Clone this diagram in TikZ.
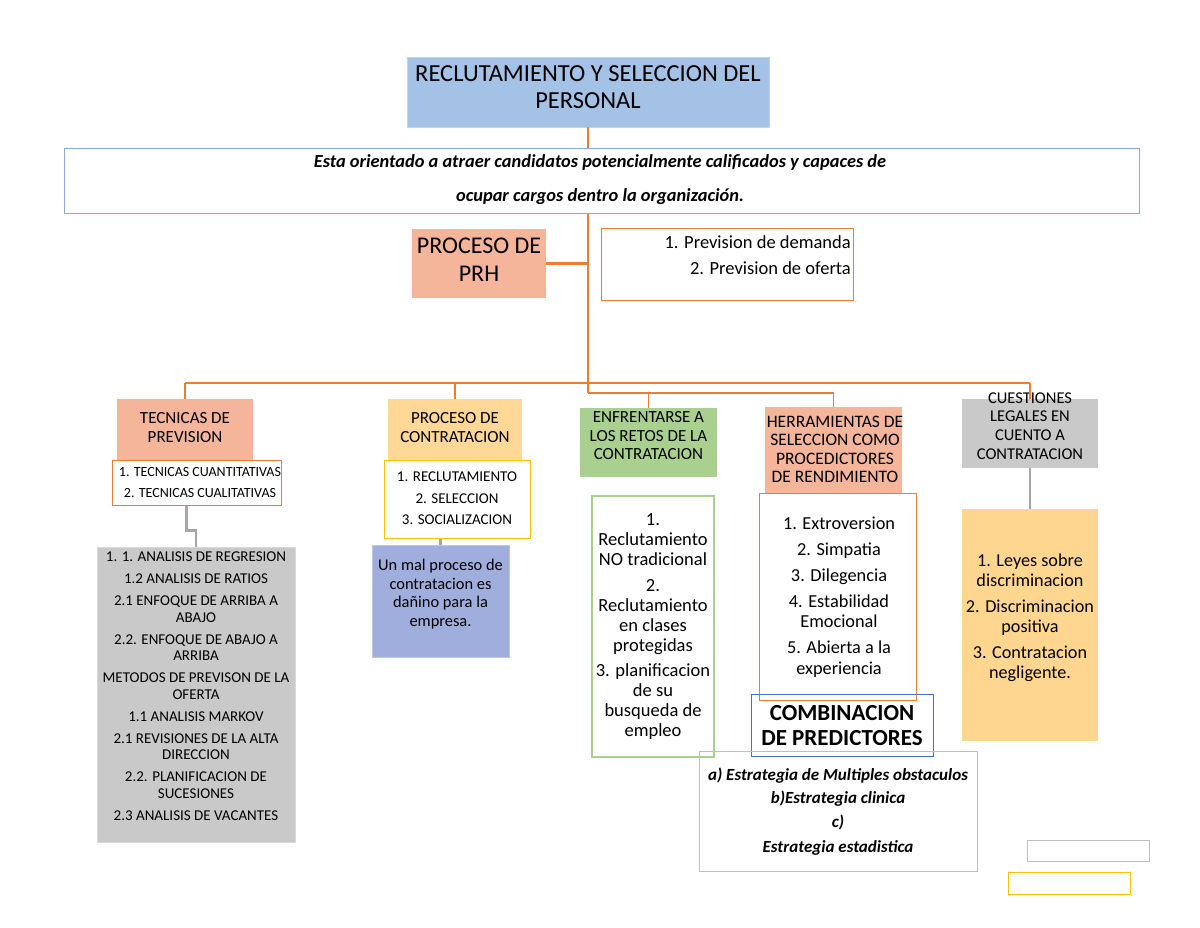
\documentclass[tikz,border=0pt]{standalone}
\usepackage{fontspec}
\setmainfont{Carlito}
\usetikzlibrary{calc}

\definecolor{titblue}{HTML}{A4C2E6}
\definecolor{descblue}{HTML}{8EAADB}
\definecolor{lineorange}{HTML}{ED7D31}
\definecolor{salmon}{HTML}{F4B59B}
\definecolor{boxgray}{HTML}{C9C9C9}
\definecolor{sand}{HTML}{FFD898}
\definecolor{gold}{HTML}{FFC000}
\definecolor{lavender}{HTML}{A0AEDD}
\definecolor{leaf}{HTML}{A9D08E}
\definecolor{edgegray}{HTML}{BFBFBF}
\definecolor{royal}{HTML}{4472C4}
\definecolor{peach}{HTML}{FFD68F}

\tikzset{
  boxx/.style={rectangle, inner sep=0pt},
  sz/.style n args={2}{minimum width=#1, minimum height=#2},
  filled/.style={boxx, fill=#1},
  framed/.style={boxx, draw=#1, line width=1pt},
  txt/.style={inner sep=0pt, align=center},
  link/.style={draw=lineorange, line width=1.6pt},
  glink/.style={draw=gray!70, line width=2.4pt}
}

\begin{document}
\begin{tikzpicture}[x=1pt, y=-1pt]
\fill[white] (0,0) rectangle (1200,927);
\useasboundingbox (0,0) rectangle (1200,927);

\node[filled=titblue, draw=titblue!70!white, sz={362}{70}] (title) at (588,92) {};
\node[txt, font=\fontsize{24.5}{27}\selectfont] (title-t) at (588,87) {RECLUTAMIENTO Y SELECCION DEL\\PERSONAL};

\node[framed=descblue, fill=white, sz={1075}{65}] (desc) at (601.5,180.5) {};
\node[txt, font=\bfseries\itshape\fontsize{18.4}{34}\selectfont] (desc-t) at (600,180) {Esta orientado a atraer candidatos potencialmente calificados y capaces de\\ocupar cargos dentro la organización.};

\node[filled=salmon, sz={134}{69}] (prh) at (479,263.5) {};
\node[txt, font=\fontsize{24}{28}\selectfont] (prh-t) at (479,260) {PROCESO DE\\PRH};

\node[framed=lineorange, sz={252}{72}] (prev) at (727,264) {};
\node[txt, align=right, anchor=east, font=\fontsize{18.5}{26}\selectfont] (prev-t) at (851,255) {1. Prevision de demanda\\2. Prevision de oferta};

\node[filled=salmon, sz={136}{61}] (tec) at (185,429.5) {};
\node[txt, font=\fontsize{17}{19}\selectfont] (tec-t) at (185,428) {TECNICAS DE\\PREVISION};
\node[framed=lineorange, fill=white, sz={169}{45}] (tecsub) at (196.5,482.5) {};
\node[txt, font=\fontsize{14}{21}\selectfont] (tecsub-t) at (200,482.5) {1. TECNICAS CUANTITATIVAS\\2. TECNICAS CUALITATIVAS};
\node[filled=boxgray, draw=boxgray!70!white, sz={198}{295}] (tecdet) at (196,694.5) {};
\node[txt, font=\fontsize{15}{16.5}\selectfont] (tecdet-t) at (196,686) {1. 1. ANALISIS DE REGRESION\\[5.5pt]1.2 ANALISIS DE RATIOS\\[5.5pt]2.1 ENFOQUE DE ARRIBA A\\ABAJO\\[5.5pt]2.2. ENFOQUE DE ABAJO A\\ARRIBA\\[5.5pt]METODOS DE PREVISON DE LA\\OFERTA\\[5.5pt]1.1 ANALISIS MARKOV\\[5.5pt]2.1 REVISIONES DE LA ALTA\\DIRECCION\\[5.5pt]2.2. PLANIFICACION DE\\SUCESIONES\\[5.5pt]2.3 ANALISIS DE VACANTES};

\node[filled=sand, sz={134}{61}] (cont) at (455,429.5) {};
\node[txt, font=\fontsize{17}{19}\selectfont] (cont-t) at (455,427.5) {PROCESO DE\\CONTRATACION};
\node[framed=gold, fill=white, sz={146}{78}] (contsub) at (457,499) {};
\node[txt, font=\fontsize{15}{21.5}\selectfont] (contsub-t) at (457,498.5) {1. RECLUTAMIENTO\\2. SELECCION\\3. SOCIALIZACION};
\node[filled=lavender, draw=lavender!70!white, sz={137}{112}] (mal) at (440.5,601) {};
\node[txt, font=\fontsize{16.4}{18.5}\selectfont] (mal-t) at (440.5,594) {Un mal proceso de\\contratacion es\\dañino para la\\empresa.};

\node[filled=leaf, sz={137}{69}] (enfr) at (648.5,442.5) {};
\node[txt, font=\fontsize{17}{18.5}\selectfont] (enfr-t) at (648.5,436) {ENFRENTARSE A\\LOS RETOS DE LA\\CONTRATACION};
\node[boxx, draw=leaf, line width=1.3pt, sz={122}{261}] (retos) at (653,626.5) {};
\node[txt, font=\fontsize{18.5}{20}\selectfont] (retos-t) at (653,627) {1.\\Reclutamiento\\NO tradicional\\[6pt]2.\\Reclutamiento\\en clases\\protegidas\\[5pt]3. planificacion\\de su\\busqueda de\\empleo};

\node[filled=salmon, sz={137}{86}] (herr) at (833.5,450) {};
\node[txt, font=\fontsize{17.5}{18.5}\selectfont] (herr-t) at (835,449.5) {HERRAMIENTAS DE\\SELECCION COMO\\PROCEDICTORES\\DE RENDIMIENTO};
\node[framed=lineorange, sz={157}{207}] (rasgos) at (837.5,596.5) {};
\node[txt, font=\fontsize{18.3}{20.5}\selectfont] (rasgos-t) at (839,597) {1. Extroversion\\[5.5pt]2. Simpatia\\[5.5pt]3. Dilegencia\\[5.5pt]4. Estabilidad\\Emocional\\[5.5pt]5. Abierta a la\\experiencia};
\node[framed=royal, sz={182}{62}] (combi) at (842,725) {};
\node[txt, font=\bfseries\fontsize{23}{25}\selectfont] (combi-t) at (842,725.5) {COMBINACION\\DE PREDICTORES};
\node[framed=edgegray, sz={278}{120}] (estrat) at (838,811) {};
\node[txt, font=\bfseries\itshape\fontsize{17}{23.5}\selectfont] (estrat-t) at (838,811.5) {a) Estrategia de Multiples obstaculos\\b)Estrategia clinica\\c)\\[1.5pt]Estrategia estadistica};

\node[filled=boxgray, sz={136}{69}] (cuest) at (1030,433.5) {};
\node[txt, font=\fontsize{16.5}{18.7}\selectfont] (cuest-t) at (1030,426) {CUESTIONES\\LEGALES EN\\CUENTO A\\CONTRATACION};
\node[filled=peach, sz={136}{232}] (leyes) at (1030,625) {};
\node[txt, font=\fontsize{18.2}{20}\selectfont] (leyes-t) at (1030,618) {1. Leyes sobre\\discriminacion\\[6pt]2. Discriminacion\\positiva\\[6pt]3. Contratacion\\negligente.};

\node[framed=edgegray, sz={122}{21}] (blank1) at (1088,850.5) {};
\node[framed=gold, sz={122}{22}] (blank2) at (1069,883) {};

\coordinate (hub) at (588,383);
\coordinate (hub2) at (588,393);
\draw[link] (title.south) -- (title.south |- desc.north);
\draw[link] (desc.south -| hub) -- (hub2);
\draw[link, line width=2.6pt] (prh.east) -- (prh.east -| hub);
\draw[link] (tec.north |- hub) -- (cuest.north |- hub);
\draw[link] (hub2) -- (herr.north |- hub2);
\foreach \n in {tec,cont,cuest} \draw[link] (\n.north) -- (\n.north |- hub);
\foreach \n in {enfr,herr} \draw[link] (\n.north) -- (\n.north |- hub2);
\draw[glink] ([xshift=-10]tecsub.south) -- ++(0,25) -| (tecdet.north);
\draw[glink] (mal.north) -- (mal.north |- contsub.south);
\draw[glink] (cuest.south) -- (leyes.north);

\end{tikzpicture}
\end{document}
